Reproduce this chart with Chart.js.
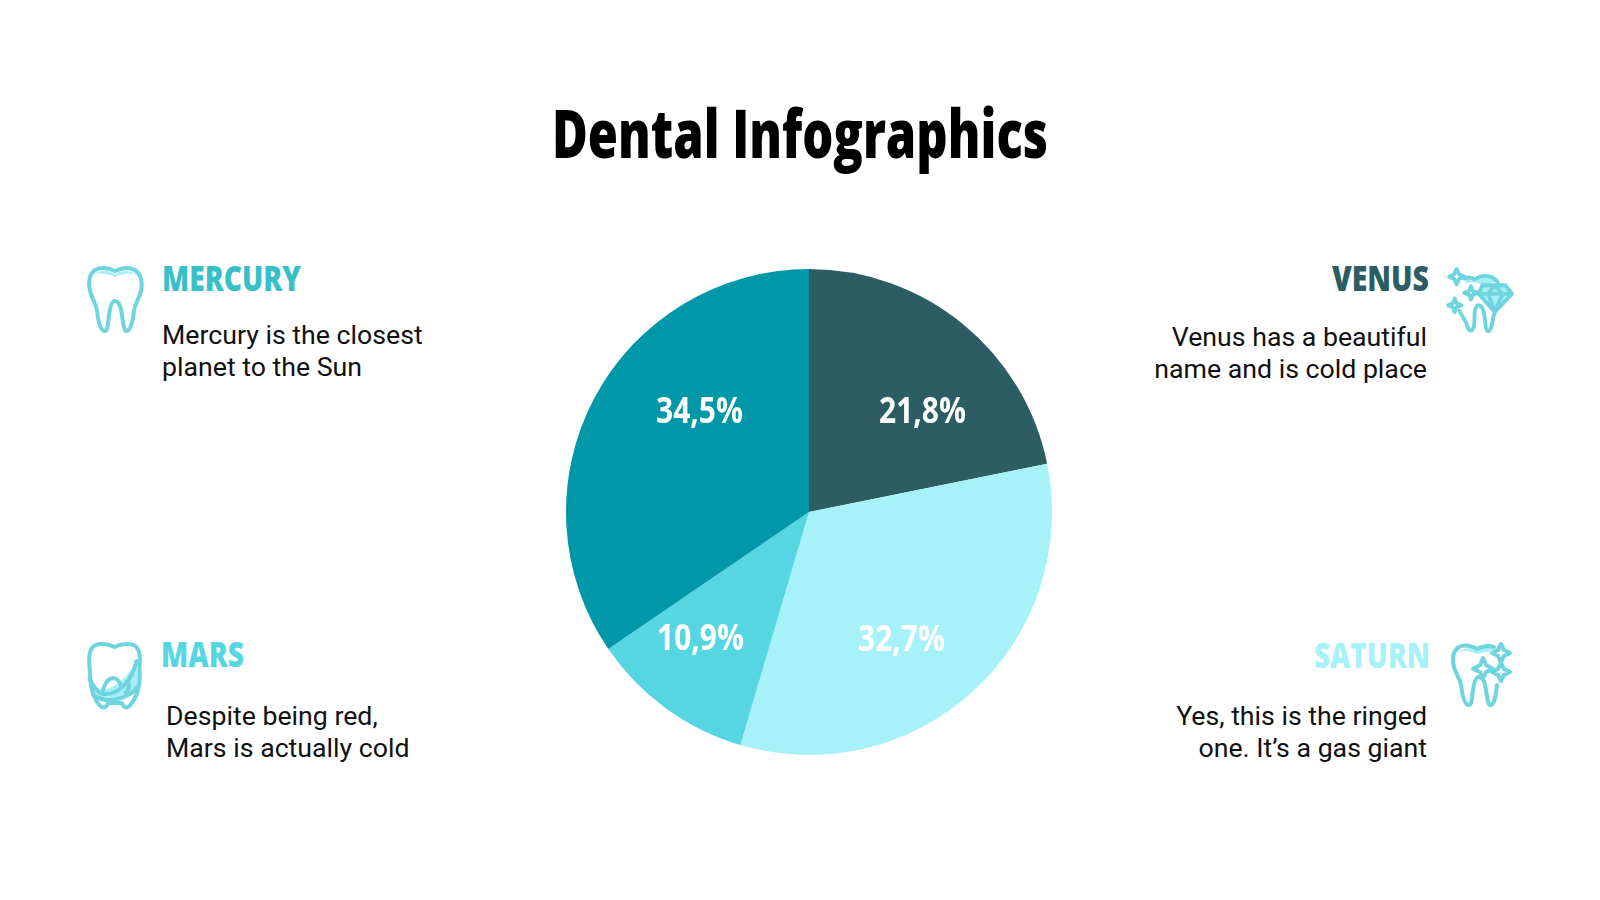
<!DOCTYPE html>
<html>
<head>
<meta charset="utf-8">
<title>Dental Infographics</title>
<script src="https://cdn.jsdelivr.net/npm/chart.js@4"></script>
<style>
  html, body { margin: 0; padding: 0; background: #fff; }
  #page { position: relative; width: 1600px; height: 900px; overflow: hidden; font-family: Roboto, sans-serif; }
  #pie-box { position: absolute; left: 566px; top: 269px; width: 486px; height: 486px; }
  .txt { position: absolute; white-space: nowrap; line-height: 1; }
  .cond { font-family: "Open Sans", sans-serif; font-weight: 800; }
  #title { font-size: 67px; color: #000; }
  .head { font-size: 35px; }
  .body { font-size: 26.7px; color: #111; }
  .pct { font-size: 36px; color: #fff; font-weight: 700; }
  svg.icon { position: absolute; overflow: visible; }
  svg.icon * { fill: none; stroke: #6dd5de; stroke-width: 4; stroke-linejoin: round; stroke-linecap: round; }
  svg.icon .shade { fill: #a9eef4; stroke: none; }
</style>
</head>
<body>
<div id="page">
  <div id="pie-box"><canvas id="pie"></canvas></div>

  <svg class="icon" style="left:87px;top:267px" width="56" height="66" viewBox="0 0 56 66">
    <path class="shade" d="M6 8 C14 2 22 4 28 7 C34 4 42 2 50 8 C42 5 34 7 28 10 C22 7 14 5 6 8 Z"/>
    <path d="M28 4 C22 1 14 0 8 3 C2 7 1 16 3 24 C5 32 9 36 10 44 C11 52 13 63 17 64 C21 65 21 56 22 48 C23 40 25 34 28 34 C32 34 34 40 35 48 C36 56 37 65 40 64 C44 63 46 52 47 44 C48 36 52 32 54 24 C56 16 54 7 48 3 C42 0 34 1 28 4 Z"/>
  </svg>

  <svg class="icon" style="left:1449px;top:269px" width="63" height="63" viewBox="0 0 66 66">
    <path class="shade" d="M17 11 C22 8 25 10 28 11 C33 7 42 6 50 13 L36 18 C30 13 24 13 17 15 Z"/>
    <path class="shade" d="M35 17 L59 17 L66 26 L48 45 L31 26 Z"/>
    <path d="M16 10 C20 8 24 9 27 11 C32 7 44 4 51 14 M11 44 C14 50 18 54 19 60 C20 64 23 66 25 63 C28 58 26 50 27 44 C28 40 29 38 31 38 C34 38 36 42 37 48 C38 54 38 65 41 65 C44 65 45 58 46 53 C46 50 47 48 48 46"/>
    <path d="M35 17 L59 17 L66 26 L48 45 L31 26 Z M31 26 L66 26 M41 26 L48 45 L56 26 L48 17 L41 26"/>
    <path d="M8 0 L10.5 5.5 L16 8 L10.5 10.5 L8 16 L5.5 10.5 L0 8 L5.5 5.5 Z"/>
    <path d="M23 18 L25 23 L30 25 L25 27 L23 32 L21 27 L16 25 L21 23 Z"/>
    <path d="M6 31 L8 36 L13 38 L8 40 L6 45 L4 40 L-1 38 L4 36 Z"/>
  </svg>

  <svg class="icon" style="left:87px;top:643px" width="55" height="68" viewBox="0 0 54 68">
    <path class="shade" d="M4 48 C22 50 38 38 49 18 L52 46 C44 56 20 62 4 48 Z"/>
    <path d="M27 4 C21 1 13 0 8 2 C2 5 1 12 2 24 C3 38 3 48 8 56 C11 62 14 66 18 64 L21 60 L34 60 L37 64 C41 66 45 60 48 54 C52 46 53 36 52 24 C53 12 52 5 46 2 C41 0 33 1 27 4 Z"/>
    <path d="M2 36 C6 44 10 50 16 51 C30 52 44 40 49 18 M6 52 C20 62 40 56 50 44 M15 50 C16 42 20 36 25 35 C30 35 33 40 34 44 M41 40 C42 44 40 48 38 50"/>
  </svg>

  <svg class="icon" style="left:1452px;top:643px" width="64" height="64" viewBox="0 0 64 64">
    <path class="shade" d="M6 10 C14 2 20 6 25 8 C31 5 38 3 44 6 L36 9 C30 9 26 12 22 10 C16 7 10 7 6 10 Z"/>
    <path d="M25 6 C20 3 12 1 7 4 C1 8 0 16 2 24 C4 32 8 35 9 42 C10 50 12 61 16 62 C20 63 20 54 21 47 C22 40 24 34 27 34 C31 34 33 40 34 47 C35 54 36 63 39 62 C43 61 44 50 45 42 M25 6 C31 3 37 2 42 4"/>
    <path d="M31 15 L34 22 L41 26 L34 29 L31 36 L28 29 L21 26 L28 22 Z"/>
    <path d="M49 1 L52 7 L58 10 L52 13 L49 19 L46 13 L40 10 L46 7 Z"/>
    <path d="M49 20 L52 26 L58 29 L52 32 L49 38 L46 32 L40 29 L46 26 Z"/>
  </svg>

  <div class="txt cond" id="title">Dental Infographics</div>
</div>
<script>
// pie data, clockwise from 12 o'clock
const planets = ['Venus', 'Saturn', 'Mars', 'Mercury'];
const shares = [21.8, 32.7, 10.9, 34.5];
const sliceColors = ['#2c5d63', '#a7f2f9', '#56d6e3', '#0097a8'];
const shareLabels = ['21,8%', '32,7%', '10,9%', '34,5%'];
const headings = ['VENUS', 'SATURN', 'MARS', 'MERCURY'];
const blurbs = [
  ['Venus has a beautiful', 'name and is cold place'],
  ['Yes, this is the ringed', 'one. It’s a gas giant'],
  ['Despite being red,', 'Mars is actually cold'],
  ['Mercury is the closest', 'planet to the Sun']
];
const headingColors = ['#2c5d63', '#a7f2f9', '#56d6e3', '#38c0c8'];

new Chart(document.getElementById('pie'), {
  type: 'pie',
  data: {
    labels: planets,
    datasets: [{ data: shares, backgroundColor: sliceColors, borderWidth: 0 }]
  },
  options: {
    responsive: true,
    maintainAspectRatio: true,
    aspectRatio: 1,
    animation: false,
    plugins: { legend: { display: false }, tooltip: { enabled: false } }
  }
});

const page = document.getElementById('page');

// squeeze a text to a measured width, anchored left / center / right
function place(el, anchorX, baseline, width, align) {
  el.style.left = '0px';
  el.style.top = '0px';
  const w = el.getBoundingClientRect().width;
  const h = el.getBoundingClientRect().height;
  const size = parseFloat(getComputedStyle(el).fontSize);
  const sx = width ? width / w : 1;
  const realW = w * sx;
  let x = anchorX;
  if (align === 'center') x = anchorX - realW / 2;
  if (align === 'right') x = anchorX - realW;
  el.style.transformOrigin = '0 0';
  el.style.transform = `scaleX(${sx})`;
  el.style.left = x + 'px';
  el.style.top = (baseline - h / 2 - size * 0.35) + 'px';
}

function addText(str, cls, color) {
  const d = document.createElement('div');
  d.className = 'txt ' + cls;
  d.textContent = str;
  if (color) d.style.color = color;
  page.appendChild(d);
  return d;
}

place(document.getElementById('title'), 800, 156, 496, 'center');

// layout per planet: [anchorX, headBaseline, headWidth, headAlign]
const headSpots = [[1429, 290, 97, 'right'], [1430, 667, 116, 'right'], [161, 666, 83, 'left'], [162, 290, 139, 'left']];
const bodySpots = [[1427, 347, 379], [1427, 726, 758], [166, 726, 758], [162, 345, 377]];
const pctSpots = [[922.5, 423], [901.5, 651], [700, 650], [699.5, 423]];

headings.forEach((h, i) => {
  const s = headSpots[i];
  place(addText(h, 'cond head', headingColors[i]), s[0], s[1], s[2], s[3]);
  const b = bodySpots[i];
  const align = s[3];
  place(addText(blurbs[i][0], 'body'), b[0], b[1], 0, align);
  place(addText(blurbs[i][1], 'body'), b[0], b[2], 0, align);
  const p = pctSpots[i];
  place(addText(shareLabels[i], 'cond pct'), p[0], p[1], 87, 'center');
});
</script>
</body>
</html>
